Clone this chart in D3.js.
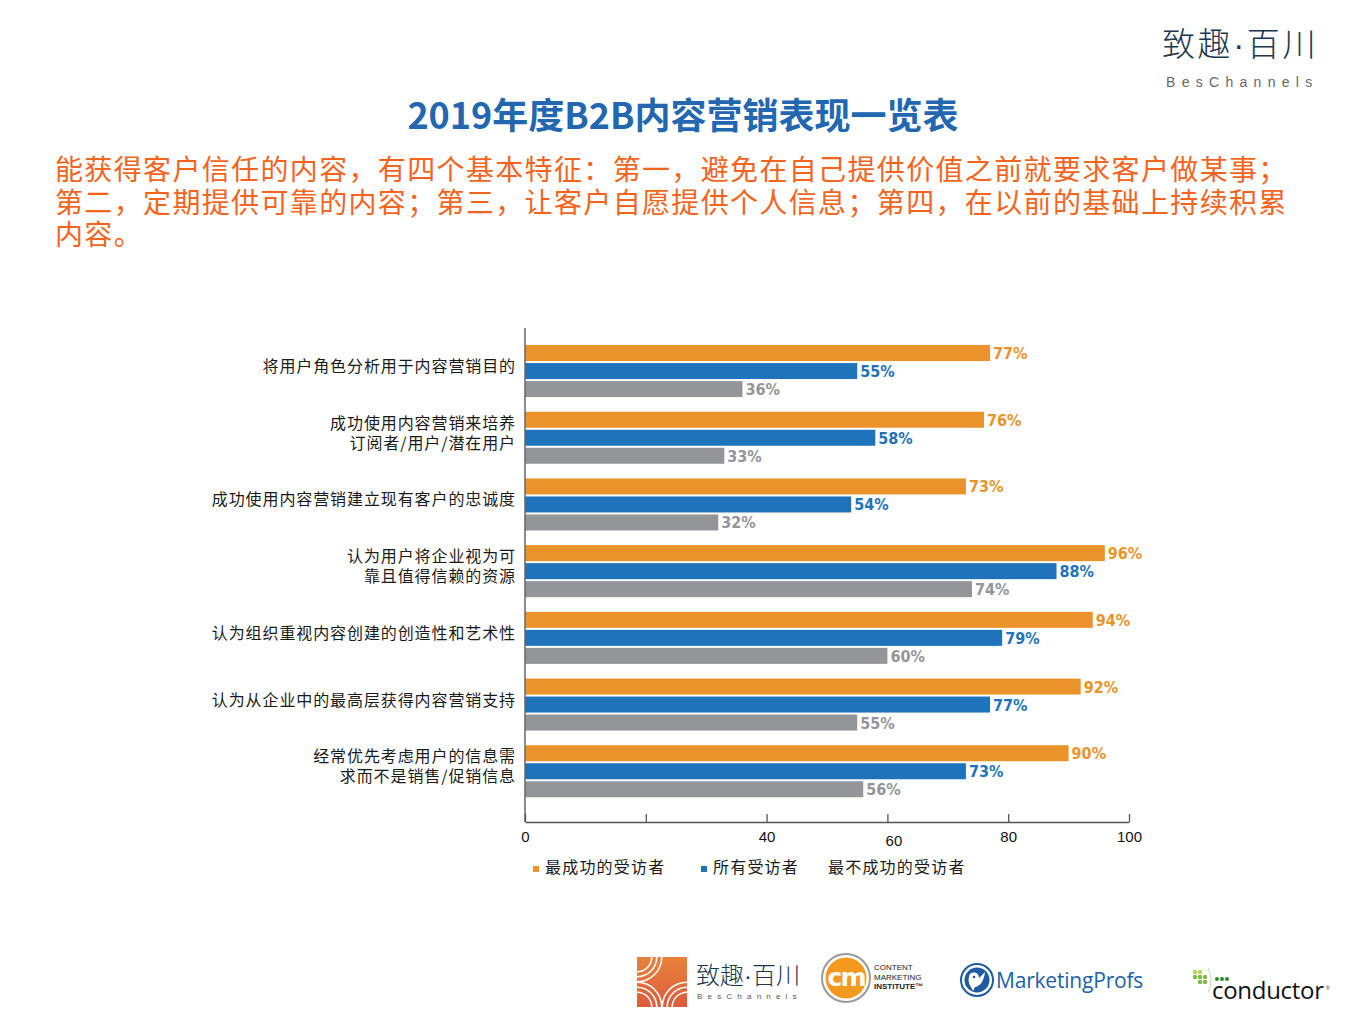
<!DOCTYPE html>
<html>
<head>
<meta charset="utf-8">
<script src="https://cdn.jsdelivr.net/npm/d3@7"></script>
<style>
  body { margin: 0; background: #fff; }
  svg { display: block; }
</style>
</head>
<body>
<svg id="chart" width="1365" height="1023"></svg>
<script>
// --- data ---
const categories = [
    "将用户角色分析用于内容营销目的",
    "成功使用内容营销来培养\n订阅者/用户/潜在用户",
    "成功使用内容营销建立现有客户的忠诚度",
    "认为用户将企业视为可\n靠且值得信赖的资源",
    "认为组织重视内容创建的创造性和艺术性",
    "认为从企业中的最高层获得内容营销支持",
    "经常优先考虑用户的信息需\n求而不是销售/促销信息"
];
const seriesNames = ["最成功的受访者", "所有受访者", "最不成功的受访者"];
const mostSuccessful = [77, 76, 73, 96, 94, 92, 90];
const allRespondents = [55, 58, 54, 88, 79, 77, 73];
const leastSuccessful = [36, 33, 32, 74, 60, 55, 56];
const tickValues = [0, 20, 40, 60, 80, 100];
const titleText = "2019年度B2B内容营销表现一览表";
const subtitleLines = [
    "能获得客户信任的内容，有四个基本特征：第一，避免在自己提供价值之前就要求客户做某事；",
    "第二，定期提供可靠的内容；第三，让客户自愿提供个人信息；第四，在以前的基础上持续积累",
    "内容。"
];

const seriesValues = [mostSuccessful, allRespondents, leastSuccessful];
const rows = categories.map((c, i) => ({
    category: c,
    values: seriesNames.map((s, j) => ({ series: s, value: seriesValues[j][i] }))
}));

// --- setup ---
const svg = d3.select("#chart");
const cjk = "'Noto Sans CJK SC', 'Noto Sans', sans-serif";
const narrow = "'Liberation Sans Narrow', 'DejaVu Sans Condensed', 'Liberation Sans', sans-serif";
const latin = "'Liberation Sans', sans-serif";

const colors = d3.scaleOrdinal()
    .domain(seriesNames)
    .range(["#E9932A", "#1F73BB", "#939598"]);

const axisY = 822;

// --- scales ---
const x = d3.scaleLinear().domain([0, 100]).range([525, 1129]);

const y = d3.scaleBand()
    .domain(categories)
    .range([337.7, 804.6])
    .paddingInner(0.22)
    .paddingOuter(0.11);

const ySub = d3.scaleBand()
    .domain(seriesNames)
    .range([0, y.bandwidth()])
    .paddingInner(0.111);

// --- header ---
svg.append("text")
    .attr("x", 683).attr("y", 129)
    .attr("text-anchor", "middle")
    .style("font-family", cjk)
    .style("font-weight", "bold")
    .style("font-size", "36px")
    .style("fill", "#2267B0")
    .text(titleText);

svg.append("g")
    .selectAll("text")
    .data(subtitleLines)
    .join("text")
    .attr("x", 55)
    .attr("y", (d, i) => 180 + i * 32.5)
    .style("font-family", cjk)
    .style("font-size", "28px")
    .style("letter-spacing", "1.35px")
    .style("fill", "#F4641E")
    .text(d => d);

// brand wordmark: CJK name with a narrow latin middle dot
function brandName(g, px, py, size, spacing, color) {
    const t = g.append("text")
        .attr("x", px).attr("y", py)
        .style("font-family", cjk)
        .style("font-weight", 300)
        .style("font-size", size + "px")
        .style("letter-spacing", spacing + "px")
        .style("fill", color);
    t.append("tspan").text("致趣");
    t.append("tspan").style("font-family", latin).text("·");
    t.append("tspan").text("百川");
    return t;
}

// top right logo
const topLogo = svg.append("g");
brandName(topLogo, 1162, 56, 33, 2.6, "#1B3652");
topLogo.append("text")
    .attr("x", 1166).attr("y", 87)
    .style("font-family", latin)
    .style("font-size", "14px")
    .style("letter-spacing", "6.3px")
    .style("fill", "#666")
    .text("BesChannels");

// --- bars ---
const groups = svg.append("g")
    .selectAll("g")
    .data(rows)
    .join("g")
    .attr("transform", d => `translate(0,${y(d.category)})`);

groups.selectAll("rect")
    .data(d => d.values)
    .join("rect")
    .attr("x", x(0))
    .attr("y", d => ySub(d.series))
    .attr("width", d => x(d.value) - x(0))
    .attr("height", ySub.bandwidth())
    .attr("fill", d => colors(d.series));

groups.selectAll("text.value")
    .data(d => d.values)
    .join("text")
    .attr("class", "value")
    .attr("x", d => x(d.value) + 3)
    .attr("y", d => ySub(d.series) + ySub.bandwidth() / 2 + 6)
    .style("font-family", narrow)
    .style("font-weight", "bold")
    .style("font-size", "16px")
    .style("fill", d => colors(d.series))
    .text(d => `${d.value}%`);

// --- category labels (one text per line) ---
const labelLines = categories.flatMap(c => {
    const parts = c.split("\n");
    return parts.map((line, i) => ({ category: c, line, i, n: parts.length }));
});
const lh = 20;

svg.append("g")
    .selectAll("text")
    .data(labelLines)
    .join("text")
    .attr("x", 516)
    .attr("y", d => y(d.category) + y.bandwidth() / 2 - 5 + (d.i - (d.n - 1) / 2) * lh + 6)
    .attr("text-anchor", "end")
    .style("font-family", cjk)
    .style("font-size", "16px")
    .style("letter-spacing", "0.9px")
    .style("fill", "#1a1a1a")
    .text(d => d.line);

// --- axes ---
svg.append("line")
    .attr("x1", x(0)).attr("x2", x(0))
    .attr("y1", 328).attr("y2", axisY)
    .attr("stroke", "#666")
    .attr("stroke-width", 1.5);

const xAxis = svg.append("g")
    .attr("transform", `translate(0,${axisY})`)
    .call(d3.axisBottom(x)
        .tickValues(tickValues)
        .tickSize(-8)
        .tickSizeOuter(0)
        .tickPadding(9)
        .tickFormat(d => d === 20 ? "" : d));

xAxis.select(".domain").attr("stroke", "#555").attr("stroke-width", 1.5);
xAxis.selectAll(".tick line").attr("stroke", "#555").attr("stroke-width", 1.3);
xAxis.selectAll(".tick text")
    .style("font-family", latin)
    .style("font-size", "15px")
    .style("fill", "#111");
xAxis.selectAll(".tick")
    .filter(d => d === 60)
    .select("text")
    .attr("dx", 6)
    .attr("dy", "1em");

// --- legend ---
const legendX = [533, 701, 828];
const legend = svg.append("g")
    .selectAll("g")
    .data(seriesNames)
    .join("g")
    .attr("transform", (d, i) => `translate(${legendX[i]},873)`);

legend.filter((d, i) => i < 2)
    .append("rect")
    .attr("x", 0).attr("y", -7)
    .attr("width", 6).attr("height", 6)
    .attr("fill", d => colors(d));

legend.append("text")
    .attr("x", (d, i) => i < 2 ? 12 : 0)
    .attr("y", 0)
    .style("font-family", cjk)
    .style("font-size", "16px")
    .style("letter-spacing", "1.2px")
    .style("fill", "#1a1a1a")
    .text(d => d);

// --- footer logos ---
const defs = svg.append("defs");
const grad = defs.append("linearGradient")
    .attr("id", "besGrad")
    .attr("x1", 0).attr("y1", 0).attr("x2", 0).attr("y2", 1);
grad.append("stop").attr("offset", "0%").attr("stop-color", "#E8833A");
grad.append("stop").attr("offset", "100%").attr("stop-color", "#DE5A3C");

const bes = svg.append("g").attr("transform", "translate(637,957)");
bes.append("rect").attr("width", 50).attr("height", 50).attr("fill", "url(#besGrad)");
const arc = d3.arc();
[14, 19, 24].forEach(r => {
    bes.append("path")
        .attr("d", arc({ innerRadius: r, outerRadius: r + 1.6, startAngle: Math.PI / 2, endAngle: Math.PI }))
        .attr("fill", "#fff");
    bes.append("path")
        .attr("transform", "translate(0,50)")
        .attr("d", arc({ innerRadius: r, outerRadius: r + 1.6, startAngle: 0, endAngle: Math.PI / 2 }))
        .attr("fill", "#fff");
    bes.append("path")
        .attr("transform", "translate(50,50)")
        .attr("d", arc({ innerRadius: r, outerRadius: r + 1.6, startAngle: -Math.PI / 2, endAngle: 0 }))
        .attr("fill", "#fff");
});
brandName(bes, 59, 27, 24, 0, "#1B3652");
bes.append("text")
    .attr("x", 60).attr("y", 42)
    .style("font-family", latin)
    .style("font-size", "8px")
    .style("letter-spacing", "5.2px")
    .style("fill", "#555")
    .text("BesChannels");

// Content Marketing Institute
const cmi = svg.append("g").attr("transform", "translate(846,978)");
cmi.append("circle").attr("r", 24).attr("fill", "#fff").attr("stroke", "#9a9a9a").attr("stroke-width", 2);
cmi.append("circle").attr("r", 20.5).attr("fill", "#F39A1E");
cmi.append("text")
    .attr("x", 0).attr("y", 8)
    .attr("text-anchor", "middle")
    .style("font-family", "'DejaVu Sans', sans-serif")
    .style("font-weight", "bold")
    .style("font-size", "25px")
    .style("letter-spacing", "-2px")
    .style("fill", "#fff")
    .text("cm");
cmi.selectAll("text.cmi")
    .data(["CONTENT", "MARKETING", "INSTITUTE™"])
    .join("text")
    .attr("class", "cmi")
    .attr("x", 28)
    .attr("y", (d, i) => -8 + i * 9.5)
    .style("font-family", latin)
    .style("font-size", "8px")
    .style("font-weight", (d, i) => i === 2 ? "bold" : "normal")
    .style("fill", "#222")
    .text(d => d);

// MarketingProfs
const mp = svg.append("g").attr("transform", "translate(977,980)");
mp.append("circle").attr("r", 16).attr("fill", "#fff").attr("stroke", "#1E5AA0").attr("stroke-width", 2);
mp.append("circle").attr("r", 12.5).attr("fill", "#1E5AA0");
mp.append("path")
    .attr("d", "M-7,-6 C-3,-9 2,-7 2,-2 L8,-8 C7,0 4,6 -2,7 L-4,11 L-6,7 C-9,3 -9,-2 -7,-6 Z")
    .attr("fill", "#fff");
mp.append("circle").attr("cx", -3).attr("cy", -3).attr("r", 1.3).attr("fill", "#1E5AA0");
mp.append("text")
    .attr("x", 19).attr("y", 8)
    .style("font-family", "'Open Sans', sans-serif")
    .style("font-size", "21px")
    .style("letter-spacing", "-0.2px")
    .style("fill", "#1E5FA8")
    .text("MarketingProfs");

// conductor
const cd = svg.append("g").attr("transform", "translate(1193,970)");
const dots = [[0, 0], [5, 0], [0, 5], [5, 5], [10, 5], [5, 10], [10, 10]];
cd.selectAll("circle.g")
    .data(dots)
    .join("circle")
    .attr("class", "g")
    .attr("cx", d => d[0] + 2)
    .attr("cy", d => d[1] + 2)
    .attr("r", 2.2)
    .attr("fill", (d, i) => i < 2 ? "#B5D66A" : "#7DBB3E");
cd.selectAll("circle.d")
    .data([0, 1, 2])
    .join("circle")
    .attr("class", "d")
    .attr("cx", d => 24 + d * 5)
    .attr("cy", 9)
    .attr("r", 2)
    .attr("fill", "#2E8B2E");
cd.append("path")
    .attr("d", "M15,-2 Q21,10 15,22")
    .attr("fill", "none")
    .attr("stroke", "#ccc")
    .attr("stroke-width", 1);
cd.append("text")
    .attr("x", 19).attr("y", 29)
    .style("font-family", "'Open Sans', sans-serif")
    .style("font-size", "24px")
    .style("letter-spacing", "-0.3px")
    .style("fill", "#111")
    .text("conductor");
cd.append("text")
    .attr("x", 133).attr("y", 20)
    .style("font-family", latin)
    .style("font-size", "5px")
    .style("fill", "#111")
    .text("®");
</script>
</body>
</html>
